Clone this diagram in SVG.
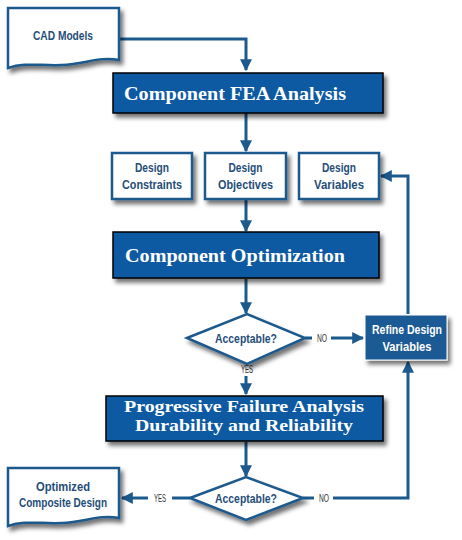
<svg xmlns="http://www.w3.org/2000/svg" width="462" height="540" viewBox="0 0 462 540">
<defs>
<filter id="sh" x="-20%" y="-20%" width="150%" height="160%">
<feDropShadow dx="3" dy="4" stdDeviation="2" flood-color="#000" flood-opacity="0.55"/>
</filter>
<marker id="ah" viewBox="0 0 10 10" refX="9" refY="5" markerWidth="4" markerHeight="4" orient="auto" markerUnits="strokeWidth">
<path d="M0,0 L10,5 L0,10 Z" fill="#1c5a8e"/>
</marker>
<style>
.ln{fill:none;stroke:#1c5a8e;stroke-width:3}
.big{fill:#0c5aa2;stroke:#000;stroke-width:1.5}
.bigt{font-family:"Liberation Serif","DejaVu Serif",serif;font-weight:bold;font-size:19px;fill:#fff}
.lt{fill:#fff;stroke:#1c5a8e;stroke-width:2.5}
.st{font-family:"Liberation Sans","DejaVu Sans",sans-serif;font-weight:bold;font-size:13px;fill:#1f4e79;text-anchor:middle}
.lab{font-family:"Liberation Sans",sans-serif;font-size:10px;fill:#333;text-anchor:middle}
</style>
</defs>
<g id="connectors">
<path class="ln" d="M120,39 H246 V70" marker-end="url(#ah)"/>
<path class="ln" d="M246,113 V151" marker-end="url(#ah)"/>
<path class="ln" d="M246,199 V231" marker-end="url(#ah)"/>
<path class="ln" d="M246,279 V313" marker-end="url(#ah)"/>
<path class="ln" d="M305,338 H312 M331,338 H363" marker-end="url(#ah)"/>
<path class="ln" d="M408,314 V176 H381" marker-end="url(#ah)"/>
<path class="ln" d="M246,376 V394" marker-end="url(#ah)"/>
<path class="ln" d="M246,442 V476" marker-end="url(#ah)"/>
<path class="ln" d="M303,498 H314 M333,498 H408 V362" marker-end="url(#ah)"/>
<path class="ln" d="M190,498 H172 M148,498 H122" marker-end="url(#ah)"/>
<text class="lab" x="322" y="341.5" textLength="10" lengthAdjust="spacingAndGlyphs">NO</text>
<text class="lab" x="247" y="373" textLength="12" lengthAdjust="spacingAndGlyphs">YES</text>
<text class="lab" x="324" y="501.5" textLength="10" lengthAdjust="spacingAndGlyphs">NO</text>
<text class="lab" x="160" y="501.5" textLength="12" lengthAdjust="spacingAndGlyphs">YES</text>
</g>
<g id="cad">
<path class="lt" filter="url(#sh)" d="M8,8 H119 V60 C100,56 85,64 62,65 C40,66 25,62 8,68 Z"/>
<text class="st" x="63" y="40" textLength="60" lengthAdjust="spacingAndGlyphs">CAD Models</text>
</g>
<g id="fea">
<rect class="big" x="113" y="73" width="270" height="40" filter="url(#sh)"/>
<text class="bigt" x="124" y="100" textLength="222" lengthAdjust="spacingAndGlyphs">Component FEA Analysis</text>
</g>
<g id="constraints">
<rect class="lt" x="112" y="153" width="80" height="46" filter="url(#sh)"/>
<text class="st" x="152" y="172" textLength="34" lengthAdjust="spacingAndGlyphs">Design</text>
<text class="st" x="152" y="189" textLength="60" lengthAdjust="spacingAndGlyphs">Constraints</text>
</g>
<g id="objectives">
<rect class="lt" x="205" y="153" width="81" height="46" filter="url(#sh)"/>
<text class="st" x="245.5" y="172" textLength="34" lengthAdjust="spacingAndGlyphs">Design</text>
<text class="st" x="245.5" y="189" textLength="55" lengthAdjust="spacingAndGlyphs">Objectives</text>
</g>
<g id="variables">
<rect class="lt" x="299" y="153" width="80" height="46" filter="url(#sh)"/>
<text class="st" x="339" y="172" textLength="34" lengthAdjust="spacingAndGlyphs">Design</text>
<text class="st" x="339" y="189" textLength="50" lengthAdjust="spacingAndGlyphs">Variables</text>
</g>
<g id="optimization">
<rect class="big" x="113" y="232" width="266" height="46" filter="url(#sh)"/>
<text class="bigt" x="125" y="262" textLength="220" lengthAdjust="spacingAndGlyphs">Component Optimization</text>
</g>
<g id="acceptable1">
<polygon class="lt" points="187,338 247,314 305,338 247,364" filter="url(#sh)"/>
<text class="st" x="246" y="343" textLength="62" lengthAdjust="spacingAndGlyphs">Acceptable?</text>
</g>
<g id="refine">
<rect x="365" y="315" width="82" height="45" fill="#1a5a96" stroke="#fff" stroke-width="1" filter="url(#sh)"/>
<text class="st" x="407" y="334" textLength="70" lengthAdjust="spacingAndGlyphs" style="fill:#fff">Refine Design</text>
<text class="st" x="407" y="351" textLength="49" lengthAdjust="spacingAndGlyphs" style="fill:#fff">Variables</text>
</g>
<g id="progressive">
<rect class="big" x="106" y="396" width="277" height="45" filter="url(#sh)"/>
<text class="bigt" x="124" y="412" textLength="240" lengthAdjust="spacingAndGlyphs" style="font-size:16px">Progressive Failure Analysis</text>
<text class="bigt" x="135" y="431" textLength="218" lengthAdjust="spacingAndGlyphs" style="font-size:16px">Durability and Reliability</text>
</g>
<g id="acceptable2">
<polygon class="lt" points="190,498 246,477 303,498 246,520" filter="url(#sh)"/>
<text class="st" x="246" y="503" textLength="62" lengthAdjust="spacingAndGlyphs">Acceptable?</text>
</g>
<g id="optimized">
<path class="lt" filter="url(#sh)" d="M8,468 H119 V518 C100,514 85,522 62,523 C40,524 25,520 8,526 Z"/>
<text class="st" x="63" y="491" textLength="54" lengthAdjust="spacingAndGlyphs">Optimized</text>
<text class="st" x="63" y="507" textLength="88" lengthAdjust="spacingAndGlyphs">Composite Design</text>
</g>
</svg>
